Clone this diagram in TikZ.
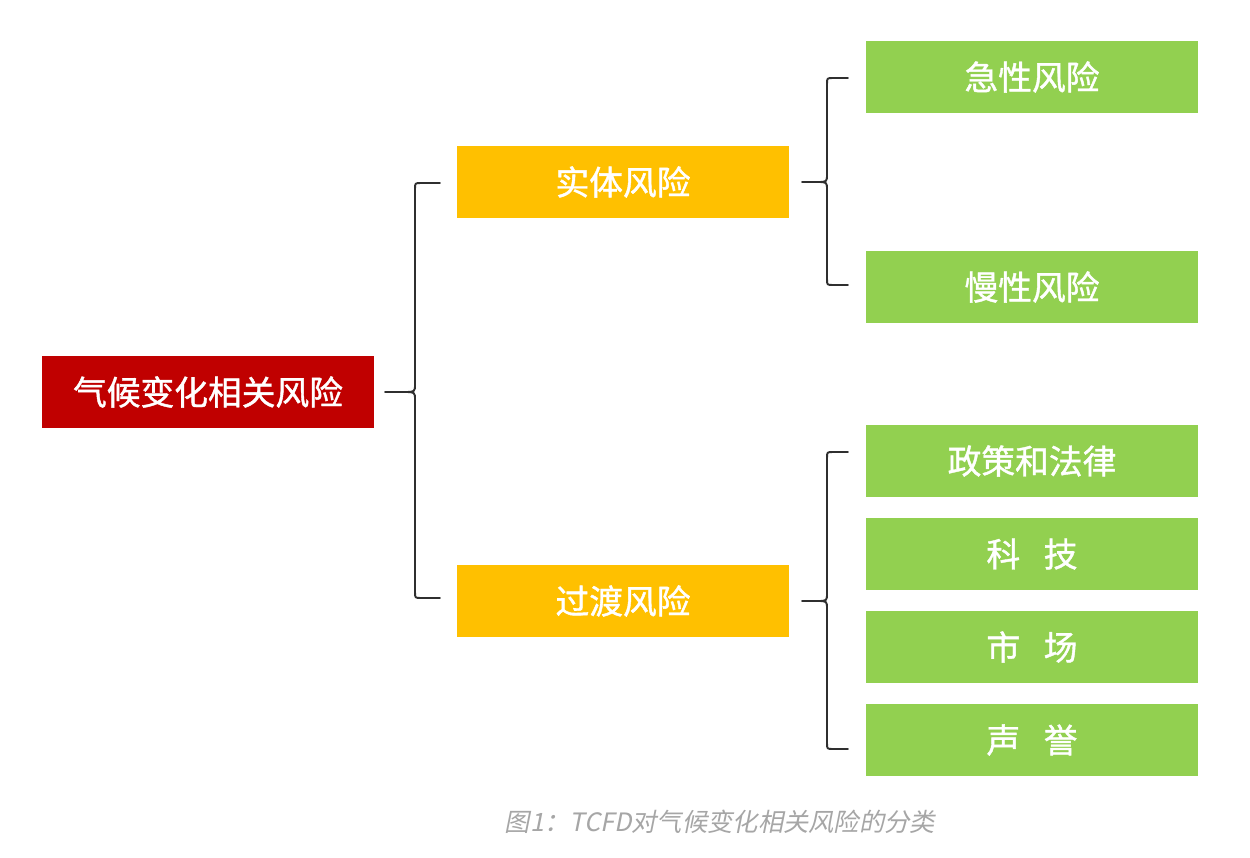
\documentclass[tikz,border=0pt]{standalone}
\usepackage{fontspec}
\newfontfamily\cjk[FakeBold=1.2]{Noto Sans CJK SC}
\newfontfamily\cjkcap[FakeSlant=0.2]{Noto Sans CJK SC}
\definecolor{boxred}{HTML}{C00000}
\definecolor{boxyellow}{HTML}{FFC000}
\definecolor{boxgreen}{HTML}{92D050}
\definecolor{capgrey}{HTML}{A6A6A6}
\definecolor{bracegrey}{HTML}{2F2F2F}
\begin{document}
\begin{tikzpicture}[x=0.02cm,y=-0.02cm,
  box/.style={minimum width=6.64cm,minimum height=1.44cm,inner sep=0pt,text=white,font=\cjk\fontsize{19.2}{22}\selectfont},
  redbox/.style={box,fill=boxred},
  yellowbox/.style={box,fill=boxyellow},
  greenbox/.style={box,fill=boxgreen},
  br/.style={draw=bracegrey,line width=1.1pt,line cap=round,line join=round}]
\useasboundingbox (0,0) rectangle (1250,858);
\fill[white] (0,0) rectangle (1250,858);
\node[redbox] (root) at (208,392) {气候变化相关风险};
\node[yellowbox] (phys) at (623,182) {实体风险};
\node[yellowbox] (trans) at (623,601) {过渡风险};
\node[greenbox] (acute) at (1032,77) {急性风险};
\node[greenbox] (chron) at (1032,287) {慢性风险};
\node[greenbox] (policy) at (1032,461) {政策和法律};
\node[greenbox] (tech) at (1032,554) {科\hspace{0.7em}技};
\node[greenbox] (market) at (1032,647) {市\hspace{0.7em}场};
\node[greenbox] (rep) at (1032,740) {声\hspace{0.7em}誉};
% brace 1
\coordinate (b1tip) at (385,392);
\coordinate (b1top) at (440,183);
\coordinate (b1bot) at (440,598);
\draw[br] (b1top) -- (421,183) .. controls (415,183) .. (415,189) -- (415,384) .. controls (415,392) .. (404,392) -- (b1tip);
\draw[br] (b1bot) -- (421,598) .. controls (415,598) .. (415,592) -- (415,400) .. controls (415,392) .. (404,392);
% brace 2
\coordinate (b2tip) at (802,182);
\coordinate (b2top) at (848,78);
\coordinate (b2bot) at (848,285);
\draw[br] (b2top) -- (833,78) .. controls (827,78) .. (827,84) -- (827,174) .. controls (827,182) .. (817,182) -- (b2tip);
\draw[br] (b2bot) -- (833,285) .. controls (827,285) .. (827,279) -- (827,190) .. controls (827,182) .. (817,182);
% brace 3
\coordinate (b3tip) at (802,601);
\coordinate (b3top) at (848,452);
\coordinate (b3bot) at (848,749);
\draw[br] (b3top) -- (833,452) .. controls (827,452) .. (827,458) -- (827,593) .. controls (827,601) .. (817,601) -- (b3tip);
\draw[br] (b3bot) -- (833,749) .. controls (827,749) .. (827,743) -- (827,609) .. controls (827,601) .. (817,601);
\node[text=capgrey,font=\cjkcap\fontsize{14.4}{17}\selectfont] (cap) at (720,822) {图1：TCFD对气候变化相关风险的分类};
\end{tikzpicture}
\end{document}
